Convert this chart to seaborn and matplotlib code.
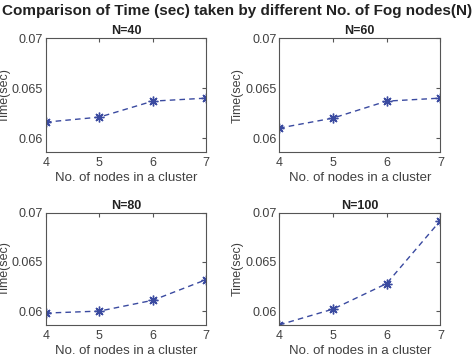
import matplotlib
matplotlib.use("Agg")
import matplotlib.pyplot as plt
import pandas as pd
import seaborn as sns

nodes = [4, 5, 6, 7]
time_n40 = [0.0616, 0.0621, 0.0637, 0.0640]
time_n60 = [0.0610, 0.0620, 0.0637, 0.0640]
time_n80 = [0.0598, 0.0600, 0.0611, 0.0632]
time_n100 = [0.0586, 0.0602, 0.0628, 0.0692]
panel_titles = ["N=40", "N=60", "N=80", "N=100"]

sns.set_style("white")
plt.rcParams['font.family'] = ['Liberation Sans', 'DejaVu Sans']

LINE_COLOR = '#3a4aa0'
TEXT_COLOR = '#404040'

fig = plt.figure(figsize=(4.74, 3.57), dpi=100)
positions = [
    [0.097, 0.574, 0.338, 0.319],
    [0.589, 0.574, 0.340, 0.319],
    [0.097, 0.090, 0.338, 0.314],
    [0.589, 0.090, 0.340, 0.314],
]

for pos, title, vals in zip(positions, panel_titles,
                            [time_n40, time_n60, time_n80, time_n100]):
    ax = fig.add_axes(pos)
    df = pd.DataFrame({'nodes': nodes, 'time': vals})
    sns.lineplot(data=df, x='nodes', y='time', ax=ax, color=LINE_COLOR,
                 linewidth=1.0, marker=(8, 2, 0), markersize=7,
                 markeredgewidth=1.0, markeredgecolor=LINE_COLOR)
    ax.lines[0].set_dashes([4, 3])
    ax.set_xlim(4, 7)
    ax.set_ylim(0.0586, 0.07)
    ax.set_xticks([4, 5, 6, 7])
    ax.set_yticks([0.06, 0.065, 0.07])
    ax.set_yticklabels(['0.06', '0.065', '0.07'])
    ax.tick_params(direction='in', length=3, top=True, right=True,
                   labelsize=9, colors='#555555', labelcolor=TEXT_COLOR)
    ax.tick_params(axis='y', pad=2)
    for sp in ax.spines.values():
        sp.set_color('#555555')
        sp.set_linewidth(0.8)
    ax.set_title(title, fontsize=9, fontweight='bold', color='#222222', pad=3)
    ax.set_xlabel('No. of nodes in a cluster', fontsize=9.5, color=TEXT_COLOR, labelpad=2)
    ax.set_ylabel('Time(sec)', fontsize=9, color=TEXT_COLOR, labelpad=1)

fig.text(0.5, 0.99, 'Comparison of Time (sec) taken by different No. of Fog nodes(N)',
         ha='center', va='top', fontsize=11, fontweight='bold', color='#222222')

fig.savefig('out.png', dpi=100)
